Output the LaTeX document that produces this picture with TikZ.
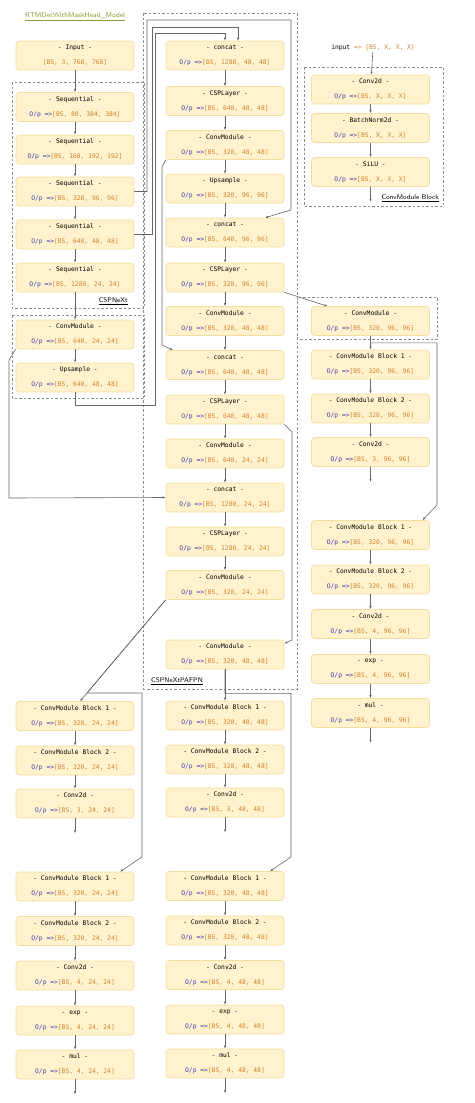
\documentclass[tikz,border=0pt]{standalone}
\usepackage{fontspec}
\setmainfont{Liberation Sans}
\setmonofont{DejaVu Sans Mono}
\usetikzlibrary{arrows.meta}
\definecolor{boxfill}{HTML}{FFF2CC}
\definecolor{boxline}{HTML}{F3DC9E}
\definecolor{opblue}{HTML}{3C3CB4}
\definecolor{oporange}{HTML}{D0822E}
\definecolor{edgecol}{HTML}{666666}
\definecolor{grpcol}{HTML}{8C8C8C}
\definecolor{titlecol}{HTML}{8A9A3A}
\newcommand{\op}[1]{\textcolor{opblue}{O/p =>}\textcolor{oporange}{#1}}
\tikzset{
  box/.style={draw=boxline, fill=boxfill, rounded corners=3pt, minimum width=118pt, minimum height=29pt,
    inner sep=0pt, align=center, font=\ttfamily\fontsize{6.3}{15}\selectfont, line width=0.6pt},
  conn/.style={draw=edgecol, line width=0.6pt, -{Latex[length=3pt,width=2.4pt]}},
  grp/.style={draw=grpcol, dash pattern=on 2.5pt off 2pt, line width=0.5pt},
  grplabel/.style={font=\sffamily\fontsize{6.8}{8}\selectfont, inner sep=0pt},
}
\begin{document}
\begin{tikzpicture}[x=1pt,y=-1pt]
\useasboundingbox (0,0) rectangle (474,1103);
% groups
\draw[grp] (143.5,13) rectangle (297,689);
\draw[grp] (12,82) rectangle (144,308);
\draw[grp] (12,315) rectangle (144,398);
\draw[grp] (297,297) rectangle (437,339);
\draw[grp] (304,67) rectangle (443,206);
\node[grplabel, anchor=east] (lcsp) at (128,301) {\underline{CSPNeXt}};
\node[grplabel, anchor=west] (lpafpn) at (151,681) {\underline{CSPNeXtPAFPN}};
\node[grplabel, anchor=east] (lcmb) at (439,198) {\underline{ConvModule Block}};
\node[font=\sffamily\fontsize{7}{8}\selectfont, text=titlecol, inner sep=0pt] (title) at (75,17) {\underline{RTMDetWithMaskHead\_Model}};
% left column
\node[box] (inp) at (75,55.5) {- Input -\\\textcolor{oporange}{[BS, 3, 768, 768]}};
\node[box] (s1) at (75,107) {- Sequential -\\\op{ [BS, 80, 384, 384]}};
\node[box] (s2) at (75,149.5) {- Sequential -\\\op{ [BS, 160, 192, 192]}};
\node[box] (s3) at (75,191.5) {- Sequential -\\\op{ [BS, 320, 96, 96]}};
\node[box] (s4) at (75,234.5) {- Sequential -\\\op{ [BS, 640, 48, 48]}};
\node[box] (s5) at (75,277.5) {- Sequential -\\\op{ [BS, 1280, 24, 24]}};
\node[box] (lcm) at (75,334.5) {- ConvModule -\\\op{ [BS, 640, 24, 24]}};
\node[box] (lup) at (75,377.5) {- Upsample -\\\op{ [BS, 640, 48, 48]}};
% middle column
\node[box] (c1) at (225,55.5) {- concat -\\\op{[BS, 1280, 48, 48]}};
\node[box] (csp1) at (225,101) {- CSPLayer -\\\op{[BS, 640, 48, 48]}};
\node[box] (cm1) at (225,145) {- ConvModule -\\\op{[BS, 320, 48, 48]}};
\node[box] (up) at (225,188.5) {- Upsample -\\\op{[BS, 320, 96, 96]}};
\node[box] (c2) at (225,232.5) {- concat -\\\op{[BS, 640, 96, 96]}};
\node[box] (csp2) at (225,277.5) {- CSPLayer -\\\op{[BS, 320, 96, 96]}};
\node[box] (cm2) at (225,321) {- ConvModule -\\\op{[BS, 320, 48, 48]}};
\node[box] (c3) at (225,365) {- concat -\\\op{[BS, 640, 48, 48]}};
\node[box] (csp3) at (225,409.5) {- CSPLayer -\\\op{[BS, 640, 48, 48]}};
\node[box] (cm3) at (225,453.5) {- ConvModule -\\\op{[BS, 640, 24, 24]}};
\node[box] (c4) at (225,497.5) {- concat -\\\op{[BS, 1280, 24, 24]}};
\node[box] (csp4) at (225,541.5) {- CSPLayer -\\\op{[BS, 1280, 24, 24]}};
\node[box] (cm4) at (225,585) {- ConvModule -\\\op{[BS, 320, 24, 24]}};
\node[box] (cm5) at (225,654.5) {- ConvModule -\\\op{[BS, 320, 48, 48]}};
% middle heads
\node[box] (m1b1) at (225,715.5) {- ConvModule Block 1 -\\\op{[BS, 320, 48, 48]}};
\node[box] (m1b2) at (225,759.5) {- ConvModule Block 2 -\\\op{[BS, 320, 48, 48]}};
\node[box] (m1c) at (225,802.5) {- Conv2d -\\\op{[BS, 3, 48, 48]}};
\node[box] (m2b1) at (225,886) {- ConvModule Block 1 -\\\op{[BS, 320, 48, 48]}};
\node[box] (m2b2) at (225,930.5) {- ConvModule Block 2 -\\\op{[BS, 320, 48, 48]}};
\node[box] (m2c) at (225,975) {- Conv2d -\\\op{[BS, 4, 48, 48]}};
\node[box] (m2e) at (225,1019.5) {- exp -\\\op{ [BS, 4, 48, 48]}};
\node[box] (m2m) at (225,1063.5) {- mul -\\\op{ [BS, 4, 48, 48]}};
% left heads
\node[box] (h1b1) at (75,716) {- ConvModule Block 1 -\\\op{[BS, 320, 24, 24]}};
\node[box] (h1b2) at (75,760.5) {- ConvModule Block 2 -\\\op{[BS, 320, 24, 24]}};
\node[box] (h1c) at (75,803.5) {- Conv2d -\\\op{[BS, 3, 24, 24]}};
\node[box] (h2b1) at (75,886.5) {- ConvModule Block 1 -\\\op{[BS, 320, 24, 24]}};
\node[box] (h2b2) at (75,931) {- ConvModule Block 2 -\\\op{[BS, 320, 24, 24]}};
\node[box] (h2c) at (75,975.5) {- Conv2d -\\\op{[BS, 4, 24, 24]}};
\node[box] (h2e) at (75,1020.5) {- exp -\\\op{ [BS, 4, 24, 24]}};
\node[box] (h2m) at (75,1064.5) {- mul -\\\op{ [BS, 4, 24, 24]}};
% right column
\node[font=\ttfamily\fontsize{6.3}{8}\selectfont, inner sep=1pt] (rin) at (373,48) {input \textcolor{oporange}{=> [BS, X, X, X]}};
\node[box] (rc) at (370.5,89.5) {- Conv2d -\\\op{ [BS, X, X, X]}};
\node[box] (rbn) at (370.5,128) {- BatchNorm2d -\\\op{ [BS, X, X, X]}};
\node[box] (rsi) at (370.5,172) {- SiLU -\\\op{ [BS, X, X, X]}};
\node[box] (rcm) at (370.5,321) {- ConvModule -\\\op{[BS, 320, 96, 96]}};
\node[box] (r1b1) at (370.5,364.5) {- ConvModule Block 1 -\\\op{[BS, 320, 96, 96]}};
\node[box] (r1b2) at (370.5,408.5) {- ConvModule Block 2 -\\\op{[BS, 320, 96, 96]}};
\node[box] (r1c) at (370.5,452) {- Conv2d -\\\op{[BS, 3, 96, 96]}};
\node[box] (r2b1) at (370.5,535) {- ConvModule Block 1 -\\\op{[BS, 320, 96, 96]}};
\node[box] (r2b2) at (370.5,579.5) {- ConvModule Block 2 -\\\op{[BS, 320, 96, 96]}};
\node[box] (r2c) at (370.5,624) {- Conv2d -\\\op{[BS, 4, 96, 96]}};
\node[box] (r2e) at (370.5,669) {- exp -\\\op{ [BS, 4, 96, 96]}};
\node[box] (r2m) at (370.5,713) {- mul -\\\op{ [BS, 4, 96, 96]}};
% straight chains
\foreach \a/\b in {inp/s1,s1/s2,s2/s3,s3/s4,s4/s5,s5/lcm,lcm/lup,
  c1/csp1,csp1/cm1,cm1/up,up/c2,c2/csp2,csp2/cm2,cm2/c3,c3/csp3,csp3/cm3,cm3/c4,c4/csp4,csp4/cm4,
  cm5/m1b1,m1b1/m1b2,m1b2/m1c,m2b1/m2b2,m2b2/m2c,m2c/m2e,m2e/m2m,
  h1b1/h1b2,h1b2/h1c,h2b1/h2b2,h2b2/h2c,h2c/h2e,h2e/h2m,
  rin/rc,rc/rbn,rbn/rsi,rcm/r1b1,r1b1/r1b2,r1b2/r1c,r2b1/r2b2,r2b2/r2c,r2c/r2e,r2e/r2m}
  \draw[conn] (\a) -- (\b);
% outputs
\foreach \a in {m1c,m2m,h1c,h2m,rsi,r1c,r2m}
  \draw[conn] (\a.south) -- ++(0,15);
% skip connections
\draw[conn] (s3.east) -| (147,20) -| (291,210) -- ([xshift=40pt]c2.north);
\draw[conn] (s4.east) -| (152,27) -| ([xshift=13pt]c1.north);
\draw[conn] (lup.south) -- ++(0,13) -| (155,33) -| (c1.north);
\draw[conn] (cm1.south west) -- (162,167) -- (162,345) -- ([xshift=-52pt]c3.north);
\draw[conn] (csp2.south east) -- ([xshift=-43pt]rcm.north);
\draw[conn] (lcm.south west) -- (9,360) -- (9,498) -- (c4.west);
\draw[conn] (csp3.south east) -- (292,432) -- (292,640) -- ([yshift=11pt]cm5.east);
\draw[conn] (rcm.south) -- ++(0,7) -| (437,505) -- ([xshift=52pt]r2b1.north);
\draw[conn] (cm4.south west) -- ([xshift=5pt]h1b1.north);
\draw[conn] (cm4.south west) -- (87,693) -- (142,693) -- (142,857) -- ([xshift=45pt]h2b1.north);
\draw[conn] (cm5.south) -- ++(0,24) -| (291,857) -- ([xshift=45pt]m2b1.north);
\end{tikzpicture}
\end{document}
